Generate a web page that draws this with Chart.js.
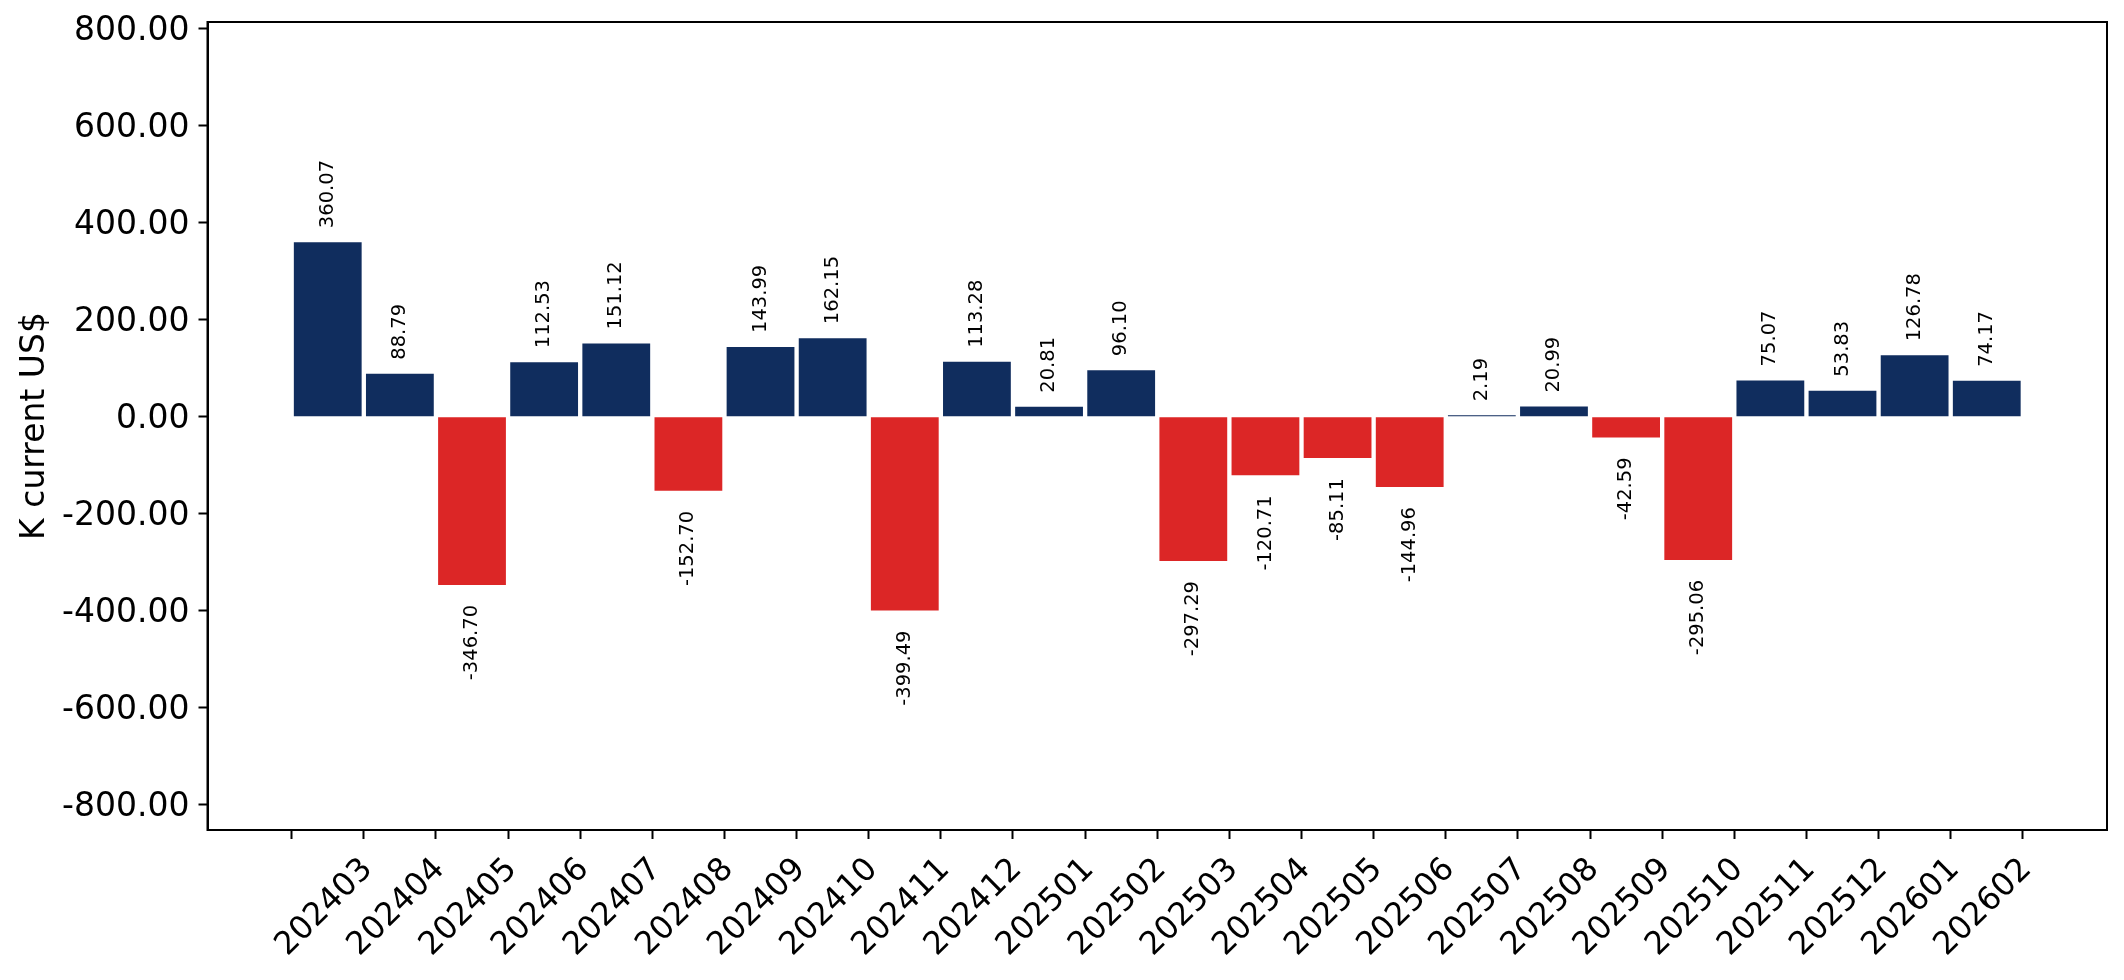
<!DOCTYPE html>
<html>
<head>
<meta charset="utf-8">
<script src="https://cdn.jsdelivr.net/npm/chart.js@4/dist/chart.umd.min.js"></script>
<style>
  html, body { margin: 0; padding: 0; background: #ffffff; }
  #wrap { width: 2124px; height: 980px; }
</style>
</head>
<body>
<div id="wrap"><canvas id="c" width="2124" height="980"></canvas></div>
<script>
// ---- data ----
const categories = ["202403","202404","202405","202406","202407","202408","202409","202410","202411","202412",
                    "202501","202502","202503","202504","202505","202506","202507","202508","202509","202510",
                    "202511","202512","202601","202602"];
const values = [360.07, 88.79, -346.70, 112.53, 151.12, -152.70, 143.99, 162.15, -399.49, 113.28,
                20.81, 96.10, -297.29, -120.71, -85.11, -144.96, 2.19, 20.99, -42.59, -295.06,
                75.07, 53.83, 126.78, 74.17];
const yTicks = [-800, -600, -400, -200, 0, 200, 400, 600, 800];
const yTitle = "K current US$";

const POS_COLOR = "#102d5e";
const NEG_COLOR = "#dc2626";
const FONT = '"DejaVu Sans", "Liberation Sans", sans-serif';

Chart.defaults.font.family = FONT;
Chart.defaults.color = "#000";

const points = values.map((v, i) => ({ x: i, y: v }));

const frame = {
  id: 'frame',
  afterDraw(chart) {
    const { ctx, chartArea: a } = chart;
    ctx.save();
    ctx.strokeStyle = '#000';
    ctx.lineWidth = 2;
    ctx.strokeRect(a.left, a.top, a.right - a.left, a.bottom - a.top);
    ctx.restore();
  }
};

const valueLabels = {
  id: 'valueLabels',
  afterDatasetsDraw(chart) {
    const { ctx } = chart;
    const meta = chart.getDatasetMeta(0);
    ctx.save();
    ctx.font = '19.5px ' + FONT;
    ctx.fillStyle = '#000';
    ctx.textBaseline = 'middle';
    meta.data.forEach((bar, i) => {
      const v = values[i];
      const txt = v.toFixed(2);
      ctx.save();
      if (v >= 0) {
        ctx.translate(bar.x, bar.y - 14);
        ctx.rotate(-Math.PI / 2);
        ctx.textAlign = 'left';
      } else {
        ctx.translate(bar.x, bar.y + 20);
        ctx.rotate(-Math.PI / 2);
        ctx.textAlign = 'right';
      }
      ctx.fillText(txt, 0, 0);
      ctx.restore();
    });
    ctx.restore();
  }
};

new Chart(document.getElementById('c'), {
  type: 'bar',
  data: {
    datasets: [{
      data: points,
      backgroundColor: (c) => (c.raw && c.raw.y >= 0) ? POS_COLOR : NEG_COLOR,
      borderWidth: 0,
      barPercentage: 0.94,
      categoryPercentage: 1.0,
      minBarLength: 1.5
    }]
  },
  plugins: [valueLabels, frame],
  options: {
    responsive: false,
    devicePixelRatio: 1,
    animation: false,
    layout: { padding: { top: 22, right: 17, bottom: 0, left: 0 } },
    plugins: { legend: { display: false }, tooltip: { enabled: false } },
    scales: {
      x: {
        type: 'linear',
        min: -1.667,
        max: 24.667,
        offset: false,
        afterBuildTicks: (s) => { s.ticks = categories.map((c, i) => ({ value: i })); },
        afterFit: (s) => { s.height = 150; s.paddingLeft = 0; s.paddingRight = 0; },
        ticks: {
          autoSkip: false,
          maxRotation: 45,
          minRotation: 45,
          labelOffset: 40,
          padding: 12,
          font: { size: 32 },
          color: '#000',
          callback: (v) => categories[v] !== undefined ? categories[v] : ''
        },
        grid: { drawOnChartArea: false, drawTicks: true, tickLength: 9, tickWidth: 2, tickColor: '#000' },
        border: { display: true, color: '#000', width: 2 }
      },
      y: {
        min: -852,
        max: 814,
        afterBuildTicks: (s) => { s.ticks = yTicks.map(v => ({ value: v })); },
        afterFit: (s) => { s.width = 207.5; s.paddingTop = 0; s.paddingBottom = 0; },
        ticks: {
          includeBounds: false,
          padding: 9,
          labelOffset: 3,
          font: { size: 33 },
          color: '#000',
          callback: (v) => Number(v).toFixed(2)
        },
        title: {
          display: true,
          text: yTitle,
          font: { size: 33 },
          color: '#000',
          padding: { top: 16, bottom: 0 }
        },
        grid: { drawOnChartArea: false, drawTicks: true, tickLength: 9, tickWidth: 2, tickColor: '#000' },
        border: { display: true, color: '#000', width: 2 }
      }
    }
  }
});
</script>
</body>
</html>
